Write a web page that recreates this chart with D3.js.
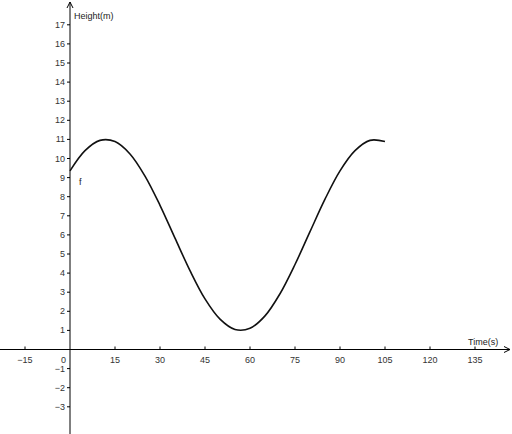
<!DOCTYPE html><html><head><script src="https://cdn.jsdelivr.net/npm/d3@7"></script>
<style>body{margin:0;background:#fff}text{font-family:"Liberation Sans",Arial,sans-serif}</style></head><body>
<svg id="c" width="512" height="434"></svg>
<script>
const times=[0,5,10,15,20,25,30,35,40,45,50,55,60,65,70,75,80,85,90,95,100,105];
const heights=[9.35,10.41,10.95,10.89,10.24,9.08,7.55,5.83,4.13,2.65,1.59,1.05,1.11,1.76,2.92,4.45,6.17,7.87,9.35,10.41,10.95,10.89];
const xTicks=[-15,15,30,45,60,75,90,105,120,135];
const yTicks=[-3,-2,-1,1,2,3,4,5,6,7,8,9,10,11,12,13,14,15,16,17];
const svg=d3.select("#c");
const x=d3.scaleLinear().domain([0,15]).range([70,115]);
const y=d3.scaleLinear().domain([0,1]).range([349.5,330.4]);
const X0=x(0),Y0=y(0);
const g=svg.append("g");
g.append("line").attr("x1",0).attr("x2",510).attr("y1",Y0).attr("y2",Y0).attr("stroke","#000");
g.append("path").attr("d",`M504,${Y0-3}L510,${Y0}L504,${Y0+3}`).attr("fill","none").attr("stroke","#000");
g.append("line").attr("x1",X0).attr("x2",X0).attr("y1",2).attr("y2",434).attr("stroke","#000");
g.append("path").attr("d",`M${X0-3},8L${X0},2L${X0+3},8`).attr("fill","none").attr("stroke","#000");
xTicks.forEach(t=>{g.append("line").attr("x1",x(t)).attr("x2",x(t)).attr("y1",Y0-3).attr("y2",Y0).attr("stroke","#000");
g.append("text").attr("x",x(t)).attr("y",Y0+13).attr("text-anchor","middle").attr("font-size",9).attr("fill","#333").text(t<0?"\u2212"+(-t):t);});
yTicks.forEach(t=>{g.append("line").attr("x1",X0-3).attr("x2",X0).attr("y1",y(t)).attr("y2",y(t)).attr("stroke","#000");
g.append("text").attr("x",X0-5).attr("y",y(t)+3).attr("text-anchor","end").attr("font-size",9).attr("fill","#333").text(t<0?"\u2212"+(-t):t);});
g.append("text").attr("x",X0-4).attr("y",Y0+13).attr("text-anchor","end").attr("font-size",9).attr("fill","#333").text("0");
g.append("text").attr("x",X0+4).attr("y",y(17.3)).attr("font-size",9).attr("fill","#222").text("Height(m)");
g.append("text").attr("x",468).attr("y",Y0-5).attr("font-size",9).attr("fill","#222").text("Time(s)");
const line=d3.line().x((d,i)=>x(times[i])).y(d=>y(d)).curve(d3.curveCatmullRom);
g.append("path").datum(heights).attr("d",line).attr("fill","none").attr("stroke","#111").attr("stroke-width",1.6);
g.append("text").attr("x",x(3)).attr("y",y(8.6)).attr("font-size",9).attr("fill","#222").text("f");
</script></body></html>
